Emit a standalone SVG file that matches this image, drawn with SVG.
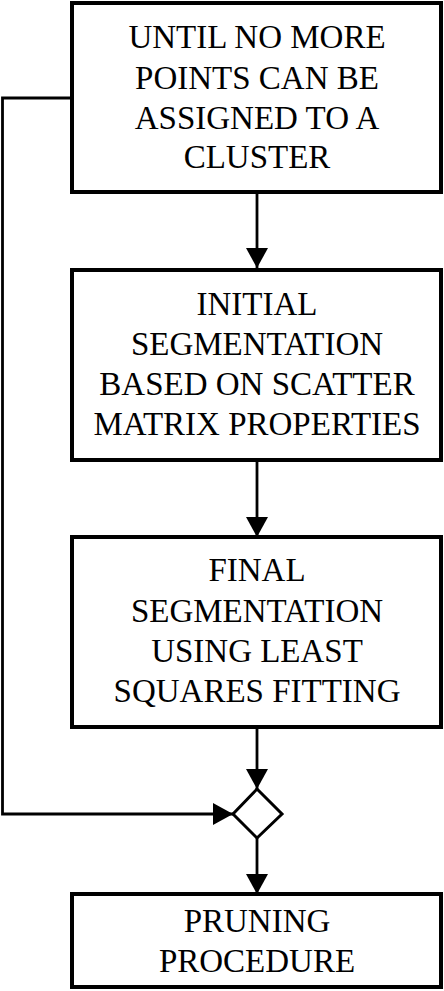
<svg xmlns="http://www.w3.org/2000/svg" width="444" height="991" viewBox="0 0 444 991">
<style>
.box{fill:#fff;stroke:#000;stroke-width:4}
.ln{fill:none;stroke:#000;stroke-width:2.8}
.t{font-family:"Liberation Serif","Times New Roman",serif;font-size:33px;fill:#000;text-anchor:middle}
</style>
<defs>
<marker id="ah" markerUnits="userSpaceOnUse" markerWidth="22" markerHeight="22" viewBox="0 0 20 22" refX="20" refY="11" orient="auto">
<path d="M0,0 L20,11 L0,22 Z" fill="#000"/>
</marker>
</defs>
<rect width="444" height="991" fill="#fff"/>
<g id="connectors">
<line class="ln" x1="257" y1="192" x2="257" y2="268" marker-end="url(#ah)"/>
<line class="ln" x1="257" y1="460" x2="257" y2="537" marker-end="url(#ah)"/>
<line class="ln" x1="257" y1="727" x2="257" y2="789" marker-end="url(#ah)"/>
<line class="ln" x1="257" y1="838" x2="257" y2="894" marker-end="url(#ah)"/>
<polyline class="ln" points="72,98 2.5,98 2.5,814 233,814" marker-end="url(#ah)"/>
</g>
<g id="n1">
<rect class="box" x="72" y="3" width="369" height="189"/>
<text class="t" x="257" y="48">UNTIL NO MORE</text>
<text class="t" x="257" y="89">POINTS CAN BE</text>
<text class="t" x="257" y="129">ASSIGNED TO A</text>
<text class="t" x="257" y="168">CLUSTER</text>
</g>
<g id="n2">
<rect class="box" x="72" y="270" width="369" height="190"/>
<text class="t" x="257" y="315">INITIAL</text>
<text class="t" x="257" y="355">SEGMENTATION</text>
<text class="t" x="257" y="395">BASED ON SCATTER</text>
<text class="t" x="257" y="435">MATRIX PROPERTIES</text>
</g>
<g id="n3">
<rect class="box" x="72" y="537" width="369" height="190"/>
<text class="t" x="257" y="581">FINAL</text>
<text class="t" x="257" y="622">SEGMENTATION</text>
<text class="t" x="257" y="662">USING LEAST</text>
<text class="t" x="257" y="702">SQUARES FITTING</text>
</g>
<g id="merge">
<polygon points="257,789 282,814 257,838 233,814" fill="#fff" stroke="#000" stroke-width="3"/>
</g>
<g id="n4">
<rect class="box" x="72" y="894" width="369" height="93"/>
<text class="t" x="257" y="932">PRUNING</text>
<text class="t" x="257" y="972">PROCEDURE</text>
</g>
</svg>
